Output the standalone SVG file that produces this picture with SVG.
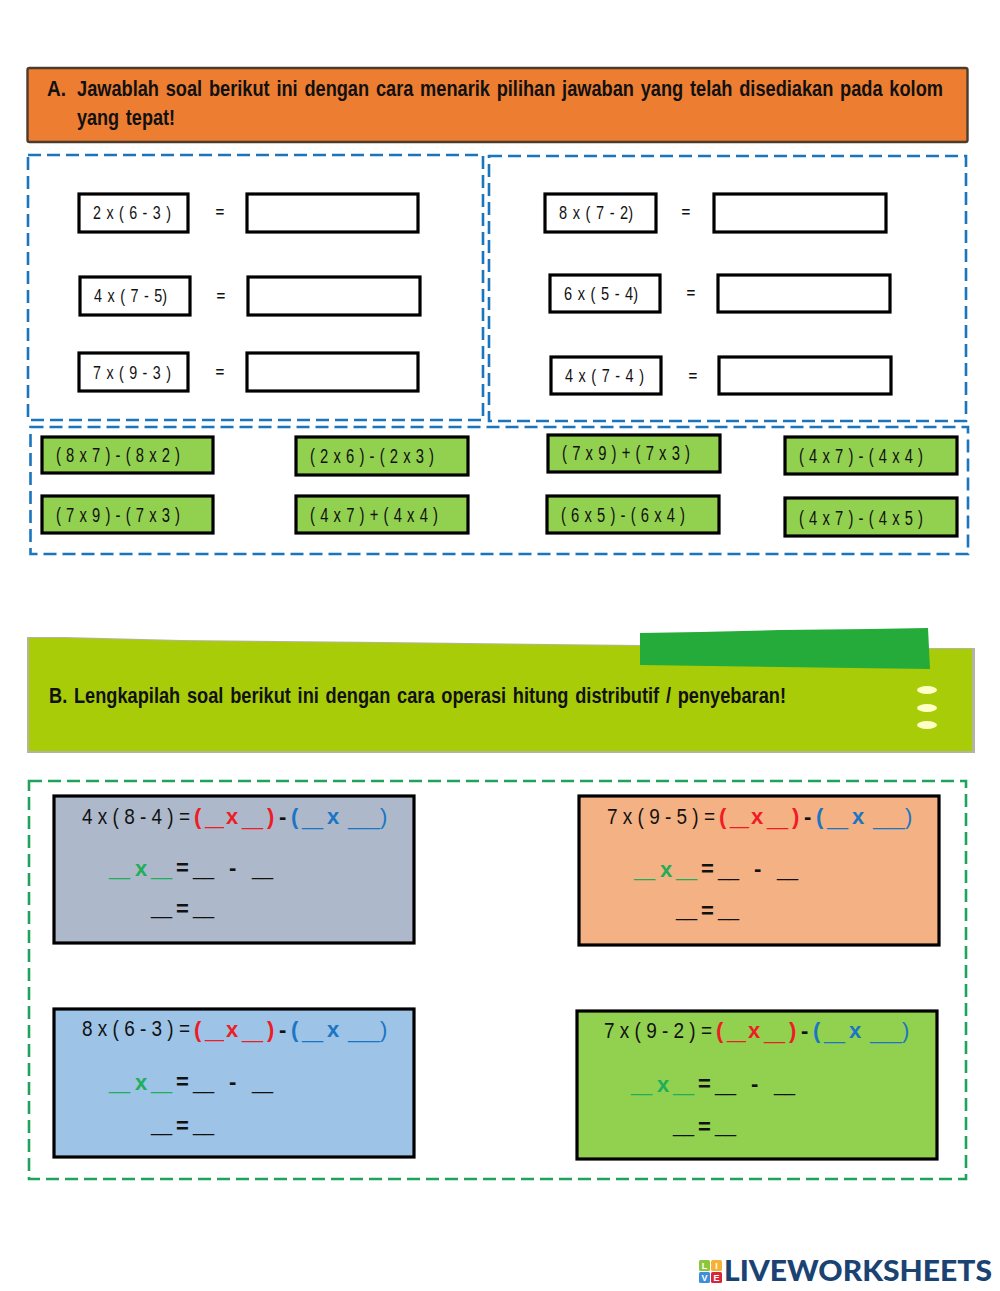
<svg xmlns="http://www.w3.org/2000/svg" width="1000" height="1291" viewBox="0 0 1000 1291">
<style>
text{font-family:"Liberation Sans",Arial,sans-serif;fill:#111}
.h{font-weight:700;font-size:21.5px;word-spacing:2px}
.e{font-size:19px;word-spacing:2px}
.eq{font-size:15px;font-weight:700;text-anchor:middle}
.o{font-size:20px;word-spacing:1.5px}
.box{fill:#fff;stroke:#000;stroke-width:3.2}
.opt{fill:#92d050;stroke:#000;stroke-width:3.2}
.dash{fill:none;stroke:#1b75bc;stroke-width:2.6;stroke-dasharray:13 6}
.card{stroke:#000;stroke-width:3.2}
.f{font-size:22px}
.u{font-size:19px}
.u3{font-size:19px}
.s{font-size:17px}
.r{fill:#ee1c25}
.b{fill:#1b75c4}
.g{fill:#1fae5a}
.k{font-weight:700}
.w{font-size:9px;font-weight:700;fill:#fff;text-anchor:middle}
</style>
<rect width="1000" height="1291" fill="#fff"/>

<g id="header-a">
<rect x="27.500" y="68" width="940" height="74" rx="2" fill="#ed7d31" stroke="#4b3c2e" stroke-width="2.4"/>
<text class="h" x="47" y="96" textLength="19" lengthAdjust="spacingAndGlyphs">A.</text>
<text class="h" transform="translate(77 96) scale(.85 1)" x="0" y="0" textLength="1018.800" lengthAdjust="spacingAndGlyphs">Jawablah soal berikut ini dengan cara menarik pilihan jawaban yang telah disediakan pada kolom</text>
<text class="h" x="77" y="125" textLength="98" lengthAdjust="spacingAndGlyphs">yang tepat!</text>
</g>

<g id="dashed-frames">
<rect class="dash" x="28" y="155" width="455" height="265"/>
<rect class="dash" x="489" y="156" width="477" height="265"/>
<rect class="dash" x="30.500" y="427" width="937.500" height="127"/>
<rect class="dash" x="29" y="781" width="937" height="398" style="stroke:#1fa35c"/>
</g>

<g id="q1"><rect class="box" x="79" y="194" width="109" height="38"/><text class="e" x="93" y="219" textLength="78" lengthAdjust="spacingAndGlyphs">2 x ( 6 - 3 )</text><text class="eq" x="220" y="217">=</text><rect class="box" x="247" y="194" width="171" height="38"/></g>
<g id="q2"><rect class="box" x="80" y="277" width="110" height="38"/><text class="e" x="94" y="302" textLength="73" lengthAdjust="spacingAndGlyphs">4 x ( 7 - 5)</text><text class="eq" x="221" y="301">=</text><rect class="box" x="248" y="277" width="172" height="38"/></g>
<g id="q3"><rect class="box" x="79" y="353" width="109" height="38"/><text class="e" x="93" y="379" textLength="78" lengthAdjust="spacingAndGlyphs">7 x ( 9 - 3 )</text><text class="eq" x="220" y="377">=</text><rect class="box" x="247" y="353" width="171" height="38"/></g>
<g id="q4"><rect class="box" x="545" y="194" width="111" height="38"/><text class="e" x="559" y="219" textLength="74" lengthAdjust="spacingAndGlyphs">8 x ( 7 - 2)</text><text class="eq" x="686" y="217">=</text><rect class="box" x="714" y="194" width="172" height="38"/></g>
<g id="q5"><rect class="box" x="550" y="275" width="110" height="37"/><text class="e" x="564" y="300" textLength="74" lengthAdjust="spacingAndGlyphs">6 x ( 5 - 4)</text><text class="eq" x="691" y="298">=</text><rect class="box" x="718" y="275" width="172" height="37"/></g>
<g id="q6"><rect class="box" x="551" y="357" width="110" height="37"/><text class="e" x="565" y="382" textLength="79" lengthAdjust="spacingAndGlyphs">4 x ( 7 - 4 )</text><text class="eq" x="693" y="381">=</text><rect class="box" x="719" y="357" width="172" height="37"/></g>

<g id="opt1"><rect class="opt" x="42" y="437" width="171" height="36"/><text class="o" x="56" y="462" textLength="124" lengthAdjust="spacingAndGlyphs">( 8 x 7 ) - ( 8 x 2 )</text></g>
<g id="opt2"><rect class="opt" x="296" y="437" width="172" height="38"/><text class="o" x="310" y="463" textLength="124" lengthAdjust="spacingAndGlyphs">( 2 x 6 ) - ( 2 x 3 )</text></g>
<g id="opt3"><rect class="opt" x="548" y="435" width="172" height="37"/><text class="o" x="562" y="460" textLength="128" lengthAdjust="spacingAndGlyphs">( 7 x 9 ) + ( 7 x 3 )</text></g>
<g id="opt4"><rect class="opt" x="785" y="437" width="172" height="37"/><text class="o" x="799" y="463" textLength="124" lengthAdjust="spacingAndGlyphs">( 4 x 7 ) - ( 4 x 4 )</text></g>
<g id="opt5"><rect class="opt" x="42" y="496" width="171" height="37"/><text class="o" x="56" y="522" textLength="124" lengthAdjust="spacingAndGlyphs">( 7 x 9 ) - ( 7 x 3 )</text></g>
<g id="opt6"><rect class="opt" x="296" y="496" width="172" height="37"/><text class="o" x="310" y="522" textLength="128" lengthAdjust="spacingAndGlyphs">( 4 x 7 ) + ( 4 x 4 )</text></g>
<g id="opt7"><rect class="opt" x="547" y="496" width="172" height="37"/><text class="o" x="561" y="522" textLength="124" lengthAdjust="spacingAndGlyphs">( 6 x 5 ) - ( 6 x 4 )</text></g>
<g id="opt8"><rect class="opt" x="785" y="498" width="172" height="38"/><text class="o" x="799" y="525" textLength="124" lengthAdjust="spacingAndGlyphs">( 4 x 7 ) - ( 4 x 5 )</text></g>

<g id="header-b">
<polygon points="27,637 65,637 182,640 280,641 385,642 640,645 640,648 975,648 975,753 27,753" fill="#b4b4a0"/>
<polygon points="29,638 65,638 182,641 280,642 385,643 640,646 640,649 972,649 972,751 29,751" fill="#a9cc08"/>
<polygon points="640,633 700,632 780,630 870,629 928,628 930,669 640,665" fill="#24ab3a"/>
<ellipse cx="927" cy="690" rx="10" ry="4" fill="#ffffc8"/>
<ellipse cx="927" cy="708" rx="10" ry="4" fill="#ffffc8"/>
<ellipse cx="927" cy="725" rx="10" ry="4" fill="#ffffc8"/>
<text class="h" x="49" y="703" textLength="737" lengthAdjust="spacingAndGlyphs">B. Lengkapilah soal berikut ini dengan cara operasi hitung distributif / penyebaran!</text>
</g>

<g id="card1">
<rect class="card" x="54" y="796" width="360" height="147" fill="#adb9ca"/>
<text class="f" transform="translate(82 824) scale(.86 1)" x="0" y="0" textLength="125.600" lengthAdjust="spacingAndGlyphs">4 x ( 8 - 4 ) =</text>
<text class="f r k" x="194" y="824">(</text><text class="s r" x="205" y="825">__</text><text class="f r k" x="226" y="824">x</text><text class="u r" x="242" y="825">__</text><text class="f r k" x="267" y="824">)</text>
<text class="f k" x="279" y="824">-</text>
<text class="f b k" x="291" y="824">(</text><text class="u b" x="302" y="825">__</text><text class="f b k" x="327" y="824">x</text><text class="u3 b" x="348" y="825">___</text><text class="f b" x="380" y="824">)</text>
<text class="u g" x="109" y="875">__</text><text class="f g k" x="135" y="876">x</text><text class="u g" x="151" y="875">__</text>
<text class="f k" x="176" y="875">=</text><text class="u" x="193" y="875">__</text><text class="f k" x="229" y="875">-</text><text class="u" x="252" y="875">__</text>
<text class="u" x="151" y="914">__</text><text class="f k" x="176" y="916">=</text><text class="u" x="193" y="914">__</text>
</g>

<g id="card2" transform="translate(525 0)">
<rect class="card" x="54" y="796" width="360" height="149" fill="#f4b183"/>
<text class="f" transform="translate(82 824) scale(.86 1)" x="0" y="0" textLength="125.600" lengthAdjust="spacingAndGlyphs">7 x ( 9 - 5 ) =</text>
<text class="f r k" x="194" y="824">(</text><text class="s r" x="205" y="825">__</text><text class="f r k" x="226" y="824">x</text><text class="u r" x="242" y="825">__</text><text class="f r k" x="267" y="824">)</text>
<text class="f k" x="279" y="824">-</text>
<text class="f b k" x="291" y="824">(</text><text class="u b" x="302" y="825">__</text><text class="f b k" x="327" y="824">x</text><text class="u3 b" x="348" y="825">___</text><text class="f b" x="380" y="824">)</text>
<text class="u g" x="109" y="876">__</text><text class="f g k" x="135" y="877">x</text><text class="u g" x="151" y="876">__</text>
<text class="f k" x="176" y="876">=</text><text class="u" x="193" y="876">__</text><text class="f k" x="229" y="876">-</text><text class="u" x="252" y="876">__</text>
<text class="u" x="151" y="916">__</text><text class="f k" x="176" y="918">=</text><text class="u" x="193" y="916">__</text>
</g>

<g id="card3">
<rect class="card" x="54" y="1009" width="360" height="148" fill="#9dc3e6"/>
<text class="f" transform="translate(82 1036) scale(.86 1)" x="0" y="0" textLength="125.600" lengthAdjust="spacingAndGlyphs">8 x ( 6 - 3 ) =</text>
<text class="f r k" x="194" y="1037">(</text><text class="s r" x="205" y="1038">__</text><text class="f r k" x="226" y="1037">x</text><text class="u r" x="242" y="1038">__</text><text class="f r k" x="267" y="1037">)</text>
<text class="f k" x="279" y="1037">-</text>
<text class="f b k" x="291" y="1037">(</text><text class="u b" x="302" y="1038">__</text><text class="f b k" x="327" y="1037">x</text><text class="u3 b" x="348" y="1038">___</text><text class="f b" x="380" y="1037">)</text>
<text class="u g" x="109" y="1089">__</text><text class="f g k" x="135" y="1090">x</text><text class="u g" x="151" y="1089">__</text>
<text class="f k" x="176" y="1089">=</text><text class="u" x="193" y="1089">__</text><text class="f k" x="229" y="1089">-</text><text class="u" x="252" y="1089">__</text>
<text class="u" x="151" y="1131">__</text><text class="f k" x="176" y="1133">=</text><text class="u" x="193" y="1131">__</text>
</g>

<g id="card4" transform="translate(522 0)">
<rect class="card" x="55" y="1011" width="360" height="148" fill="#92d050"/>
<text class="f" transform="translate(82 1038) scale(.86 1)" x="0" y="0" textLength="125.600" lengthAdjust="spacingAndGlyphs">7 x ( 9 - 2 ) =</text>
<text class="f r k" x="194" y="1038">(</text><text class="s r" x="205" y="1039">__</text><text class="f r k" x="226" y="1038">x</text><text class="u r" x="242" y="1039">__</text><text class="f r k" x="267" y="1038">)</text>
<text class="f k" x="279" y="1038">-</text>
<text class="f b k" x="291" y="1038">(</text><text class="u b" x="302" y="1039">__</text><text class="f b k" x="327" y="1038">x</text><text class="u3 b" x="348" y="1039">___</text><text class="f b" x="380" y="1038">)</text>
<text class="u g" x="109" y="1091">__</text><text class="f g k" x="135" y="1092">x</text><text class="u g" x="151" y="1091">__</text>
<text class="f k" x="176" y="1091">=</text><text class="u" x="193" y="1091">__</text><text class="f k" x="229" y="1091">-</text><text class="u" x="252" y="1091">__</text>
<text class="u" x="151" y="1132">__</text><text class="f k" x="176" y="1134">=</text><text class="u" x="193" y="1132">__</text>
</g>

<g id="logo">
<rect x="699" y="1260" width="11" height="11" rx="1.500" fill="#8cc63f"/><text class="w" x="704.500" y="1269">L</text>
<rect x="711" y="1260" width="11" height="11" rx="1.500" fill="#f5b335"/><text class="w" x="716.500" y="1269">I</text>
<rect x="699" y="1272" width="11" height="11" rx="1.500" fill="#3f8fd8"/><text class="w" x="704.500" y="1281">V</text>
<rect x="711" y="1272" width="11" height="11" rx="1.500" fill="#d8263c"/><text class="w" x="716.500" y="1281">E</text>
<text x="724" y="1281" font-size="28" font-weight="900" style="fill:#1a4373;font-family:'Lato','Liberation Sans',sans-serif" textLength="268" lengthAdjust="spacingAndGlyphs">LIVEWORKSHEETS</text>
</g>
</svg>
